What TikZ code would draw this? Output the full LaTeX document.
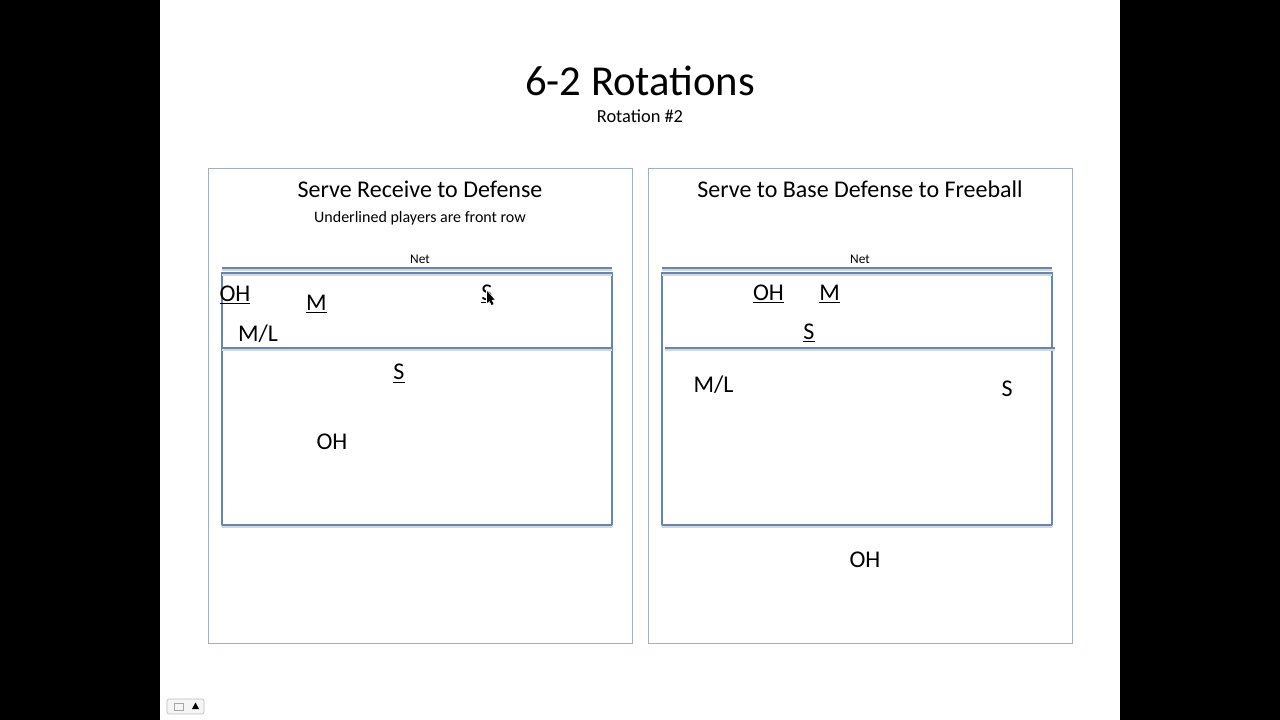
\documentclass[tikz,border=0pt]{standalone}
\usepackage{fontspec}
\setmainfont{Carlito}
\usetikzlibrary{calc}
\definecolor{courtblue}{HTML}{6885B2}
\definecolor{panelgray}{HTML}{A0B0C0}
\definecolor{shadowgray}{HTML}{D4D7DC}
\def\courtline[#1](#2)(#3) {\draw[shadowgray, line width=2pt] ($(#2)+(0,1.8)$) -- ($(#3)+(0,1.8)$); \draw[courtblue, #1] (#2) -- (#3);}
\tikzset{
	player/.style={font=\fontsize{18}{20}\selectfont, inner sep=0pt},
	paneltitle/.style={font=\fontsize{18}{20}\selectfont, inner sep=0pt},
	panelnote/.style={font=\fontsize{12}{14}\selectfont, inner sep=0pt},
	netlabel/.style={font=\fontsize{10}{12}\selectfont, inner sep=0pt},
	panelbox/.style={draw=panelgray, line width=0.8pt},
}

\begin{document}
\begin{tikzpicture}[x=0.75pt, y=-0.75pt]

	\useasboundingbox (0,0) rectangle (1280,720);
	\fill[black] (0,0) rectangle (160,720);
	\fill[black] (1120,0) rectangle (1280,720);

	\node[inner sep=0pt, font=\fontsize{32}{36}\selectfont] (title) at (640,81) {6-2 Rotations};
	\node[panelnote, font=\fontsize{13.8}{16}\selectfont] (subtitle) at (640,116) {Rotation \#2};

	% left panel
	\draw[panelbox] (208.3,168.3) rectangle (632.3,643.3);
	\node[paneltitle] (lefttitle) at (420,189.5) {Serve Receive to Defense};
	\node[panelnote] (leftnote) at (420,218.5) {Underlined players are front row};
	\node[netlabel] (leftnet) at (420,259) {Net};
	\courtline[line width=2pt](222,272)(222,525)
	\courtline[line width=2pt](612,272)(612,525)
	\courtline[line width=2pt](222,525)(612,525)
	\courtline[line width=2pt](222,273)(612,273)
	\courtline[line width=1.5pt](222,268)(612,268)
	\courtline[line width=2pt](222,348)(612,348)

	\node[player] (leftoh) at (235,295) {\underline{OH}};
	\node[player] (leftm) at (316.5,304.5) {\underline{M}};
	\node[player] (leftsa) at (487,294) {\underline{S}};
	\node[player] (leftml) at (258,333.5) {M/L};
	\node[player] (leftsb) at (399,373.5) {\underline{S}};
	\node[player] (leftohb) at (332,441.5) {OH};
	% cursor
	\draw[white, line width=1.2pt] (487,291) -- (487,303) -- (489.5,301) -- (491.5,305) -- (493.5,304) -- (491.5,300) -- (494.5,299.5) -- cycle;
	\fill[black] (487,291) -- (487,303) -- (489.5,301) -- (491.5,305) -- (493.5,304) -- (491.5,300) -- (494.5,299.5) -- cycle;

	% right panel
	\draw[panelbox] (648.3,168.3) rectangle (1072.3,643.3);
	\node[paneltitle] (righttitle) at (860,189.5) {Serve to Base Defense to Freeball};
	\node[netlabel] (rightnet) at (860,259) {Net};
	\courtline[line width=2pt](662,272)(662,525)
	\courtline[line width=2pt](1052,272)(1052,525)
	\courtline[line width=2pt](662,525)(1052,525)
	\courtline[line width=2pt](662,273)(1052,273)
	\courtline[line width=1.5pt](662,268)(1052,268)
	\courtline[line width=2pt](665,348)(1055,348)

	\node[player] (rightoh) at (768.5,294) {\underline{OH}};
	\node[player] (rightm) at (829.5,294) {\underline{M}};
	\node[player] (rights) at (809,333) {\underline{S}};
	\node[player] (rightml) at (713.5,384.5) {M/L};
	\node[player] (rightsb) at (1007,389) {S};
	\node[player] (rightohb) at (865,559.5) {OH};

	% toolbar
	\draw[gray!50, fill=gray!8, rounded corners=1.5pt, line width=0.5pt] (167,699) rectangle (204,714);
	\draw[gray!70, line width=0.4pt] (174,703) rectangle (183,710);
	\fill[black] (192,709) -- (199,709) -- (195.5,702.5) -- cycle;

\end{tikzpicture}
\end{document}
